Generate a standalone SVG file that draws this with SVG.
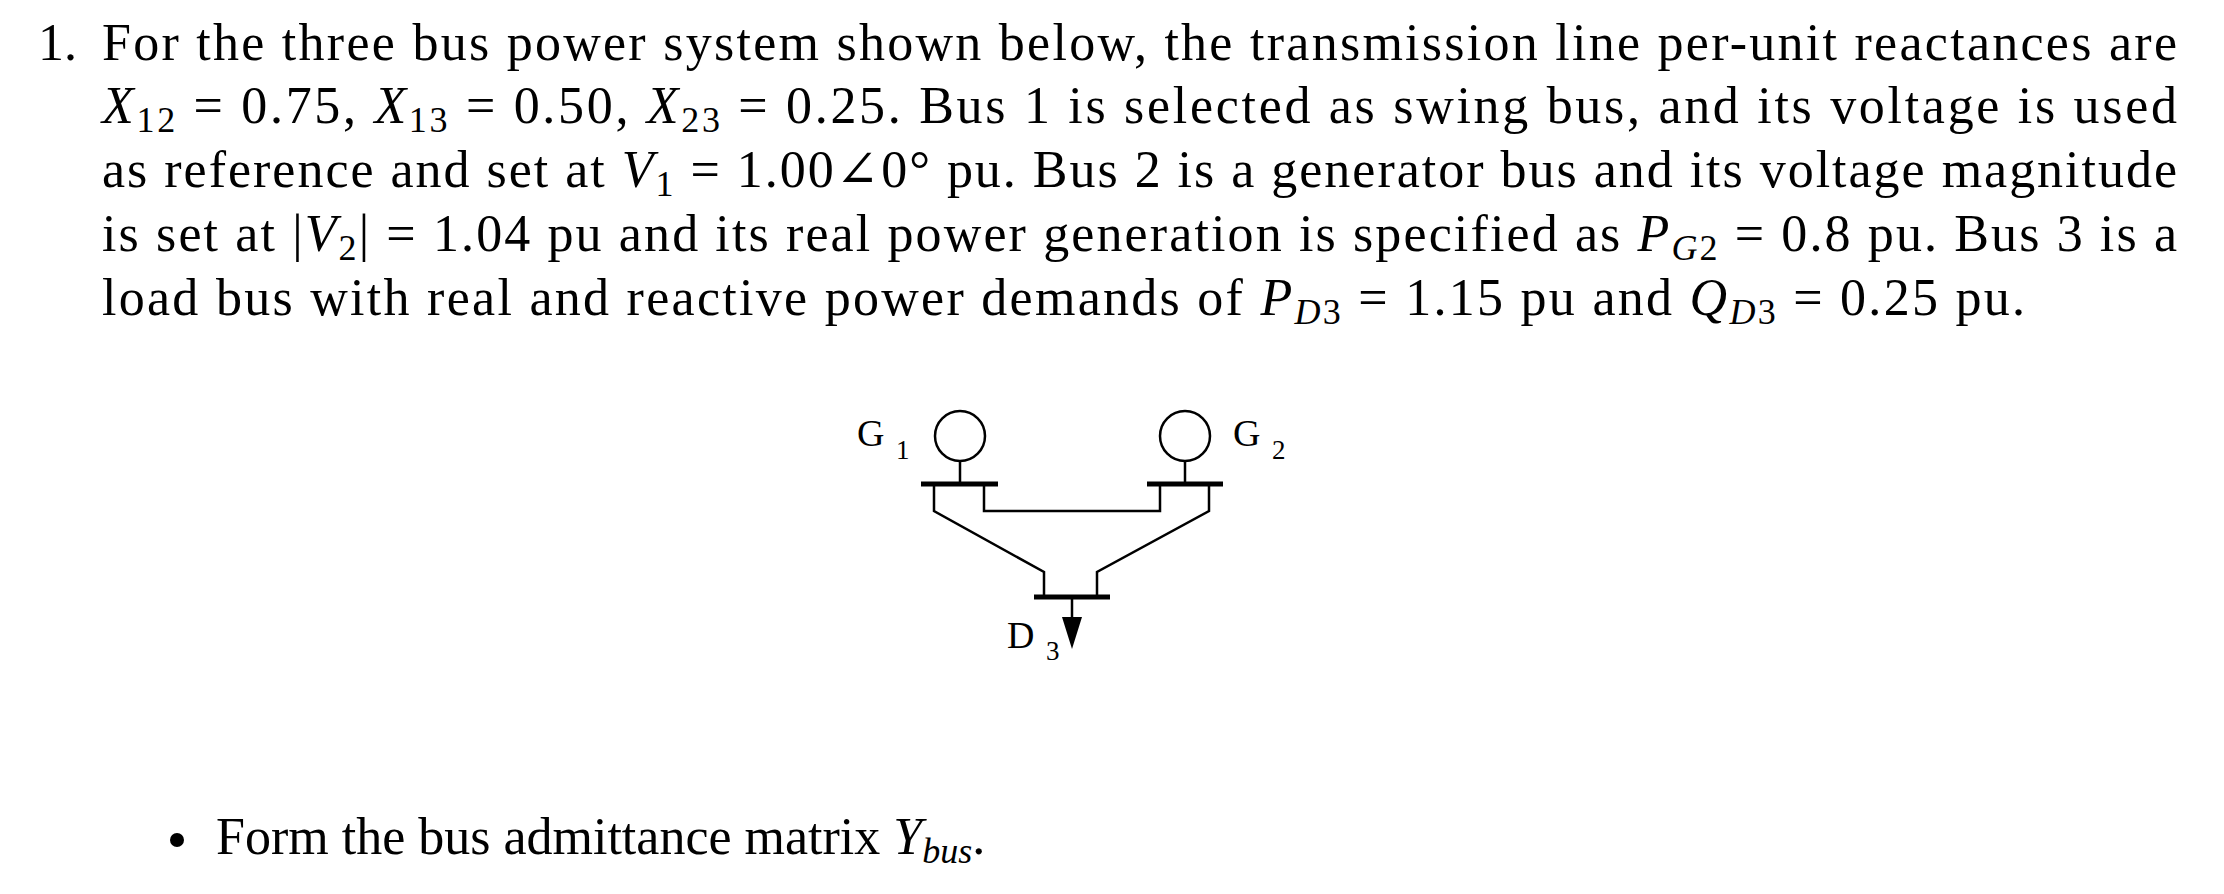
<svg xmlns="http://www.w3.org/2000/svg" width="2224" height="894" viewBox="0 0 2224 894">
<style>
text{font-family:"Liberation Serif","DejaVu Serif",serif;fill:#000}
.t{font-size:52px}
.i{font-style:italic}
.s{font-size:36px}
.w{stroke:#000;stroke-width:2.5;fill:none}
.bar{stroke:#000;stroke-width:5}
.lb{font-size:38px}
.sb{font-size:27px}
</style>
<rect width="2224" height="894" fill="#fff"/>
<g id="problem">
<text class="t" x="38" y="60">1.</text>
<text class="t" x="102" y="60" textLength="2075" lengthAdjust="spacing">For the three bus power system shown below, the transmission line per-unit reactances are</text>
<text class="t" x="102" y="123" textLength="2075" lengthAdjust="spacing"><tspan class="i">X</tspan><tspan class="s" dy="9">12</tspan><tspan dy="-9"> = 0.75, </tspan><tspan class="i">X</tspan><tspan class="s" dy="9">13</tspan><tspan dy="-9"> = 0.50, </tspan><tspan class="i">X</tspan><tspan class="s" dy="9">23</tspan><tspan dy="-9"> = 0.25.  Bus 1 is selected as swing bus, and its voltage is used</tspan></text>
<text class="t" x="102" y="187" textLength="2075" lengthAdjust="spacing">as reference and set at <tspan class="i">V</tspan><tspan class="s" dy="9">1</tspan><tspan dy="-9"> = 1.00∠0° pu.  Bus 2 is a generator bus and its voltage magnitude</tspan></text>
<text class="t" x="102" y="251" textLength="2075" lengthAdjust="spacing">is set at |<tspan class="i">V</tspan><tspan class="s" dy="9">2</tspan><tspan dy="-9">| = 1.04 pu and its real power generation is specified as </tspan><tspan class="i">P</tspan><tspan class="s i" dy="9">G</tspan><tspan class="s">2</tspan><tspan dy="-9"> = 0.8 pu.  Bus 3 is a</tspan></text>
<text class="t" x="102" y="315" textLength="1923" lengthAdjust="spacing">load bus with real and reactive power demands of <tspan class="i">P</tspan><tspan class="s i" dy="9">D</tspan><tspan class="s">3</tspan><tspan dy="-9"> = 1.15 pu and </tspan><tspan class="i">Q</tspan><tspan class="s i" dy="9">D</tspan><tspan class="s">3</tspan><tspan dy="-9"> = 0.25 pu.</tspan></text>
</g>
<g id="G1">
<circle class="w" cx="960" cy="436" r="25"/>
<line class="w" x1="960" y1="461" x2="960" y2="484"/>
<line class="bar" x1="921" y1="484" x2="998" y2="484"/>
<text class="lb" x="857" y="446">G</text><text class="sb" x="896" y="459">1</text>
</g>
<g id="G2">
<circle class="w" cx="1185" cy="436" r="25"/>
<line class="w" x1="1185" y1="461" x2="1185" y2="484"/>
<line class="bar" x1="1147" y1="484" x2="1223" y2="484"/>
<text class="lb" x="1233" y="446">G</text><text class="sb" x="1272" y="459">2</text>
</g>
<g id="D3">
<line class="bar" x1="1034" y1="597" x2="1110" y2="597"/>
<line class="w" x1="1072" y1="597" x2="1072" y2="618"/>
<polygon points="1062,617 1082,617 1072,649" fill="#000"/>
<text class="lb" x="1007" y="648">D</text><text class="sb" x="1046" y="660">3</text>
</g>
<g id="connectors">
<polyline class="w" points="984,484 984,511 1160,511 1160,484"/>
<polyline class="w" points="934,484 934,511 1044,572 1044,597"/>
<polyline class="w" points="1209,484 1209,511 1097,572 1097,597"/>
</g>
<g id="bullet">
<circle cx="177" cy="840" r="7" fill="#000"/>
<text class="t" x="216" y="854">Form the bus admittance matrix <tspan class="i">Y</tspan><tspan class="s i" dy="9">bus</tspan><tspan dy="-9">.</tspan></text>
</g>
</svg>
